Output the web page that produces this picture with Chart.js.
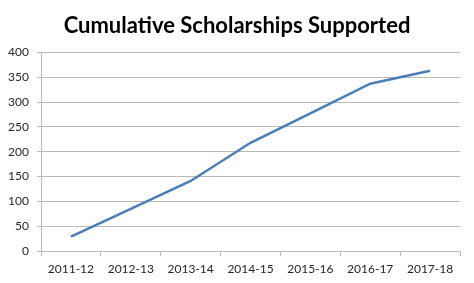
<!DOCTYPE html>
<html>
<head>
<meta charset="utf-8">
<script src="https://cdn.jsdelivr.net/npm/chart.js@4/dist/chart.umd.min.js"></script>
<style>
  html, body { margin: 0; padding: 0; background: #fff; }
  #chart { display: block; }
</style>
</head>
<body>
<canvas id="chart" width="474" height="283"></canvas>
<script>
// data
let years = ["2011-12", "2012-13", "2013-14", "2014-15", "2015-16", "2016-17", "2017-18"];
let scholarships = [29, 85, 141, 218, 277, 337, 363];
let yMin = 0;
let yMax = 400;
let yStep = 50;

let gridGray = "#b9b9b9";
let textColor = "#262626";

// centre the title on the whole canvas, not on the padded box
let centreTitle = {
  id: "centreTitle",
  afterLayout: function (chart) {
    if (chart.titleBlock) {
      chart.titleBlock.left = 0;
      chart.titleBlock.right = chart.width;
    }
  },
};

var ctx = document.getElementById("chart").getContext("2d");
var chart = new Chart(ctx, {
  type: "line",
  data: {
    labels: years,
    datasets: [
      {
        label: "Cumulative Scholarships Supported",
        data: scholarships,
        borderColor: "#4a7ebb",
        borderWidth: 2.5,
        pointRadius: 0,
        tension: 0,
        fill: false,
      },
    ],
  },
  options: {
    responsive: false,
    animation: false,
    layout: { padding: { left: 0, right: 14, top: 0, bottom: 0 } },
    plugins: {
      legend: { display: false },
      tooltip: { enabled: false },
      title: {
        display: true,
        text: "Cumulative Scholarships Supported",
        color: "#000",
        font: { family: "Lato", size: 22, weight: "bold" },
        padding: { top: 13, bottom: 13 },
      },
    },
    scales: {
      x: {
        offset: true,
        grid: {
          offset: true,
          drawOnChartArea: false,
          color: gridGray,
          tickLength: 5,
        },
        border: { color: gridGray },
        ticks: {
          color: textColor,
          font: { family: "Lato", size: 12 },
          padding: 6,
          maxRotation: 0,
        },
        afterFit: function (s) { s.height = 32; },
      },
      y: {
        min: yMin,
        max: yMax,
        grid: { color: gridGray, tickLength: 4 },
        border: { color: gridGray },
        ticks: {
          stepSize: yStep,
          color: textColor,
          font: { family: "Lato", size: 12 },
          padding: 8,
        },
        afterFit: function (s) { s.width = 41; },
      },
    },
  },
  plugins: [centreTitle],
});
</script>
</body>
</html>
